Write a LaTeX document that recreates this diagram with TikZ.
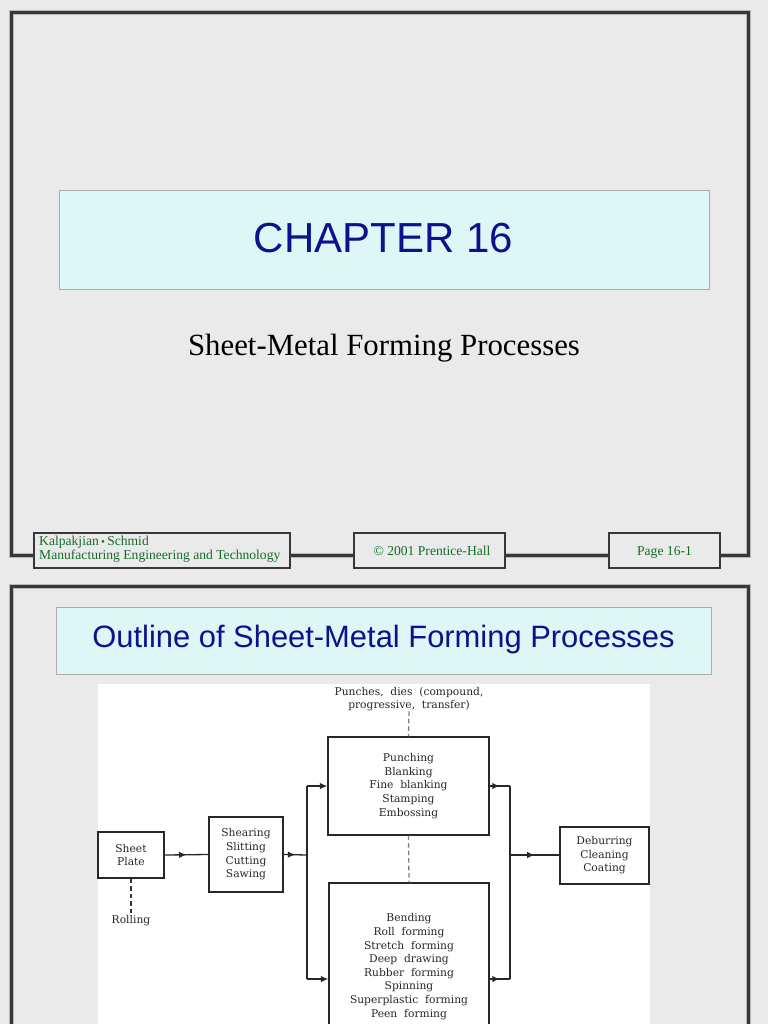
\documentclass[tikz,border=0pt]{standalone}
\usepackage{fontspec}
\setmainfont{Liberation Serif}
\newfontfamily\arialf{Liberation Sans}
\newfontfamily\diagf{DejaVu Serif}
\usetikzlibrary{arrows.meta,decorations.markings}
\definecolor{bgcol}{RGB}{234,234,234}
\definecolor{cyanbox}{RGB}{221,246,246}
\definecolor{titleblue}{RGB}{12,18,140}
\definecolor{footgreen}{RGB}{20,110,40}
\definecolor{framedark}{RGB}{56,56,56}
\definecolor{diagline}{RGB}{40,40,40}
\tikzset{
  slideframe/.style={draw=framedark,line width=2.6pt},
  frameshade/.style={draw=gray!55,line width=4.6pt},
  titlebox/.style={fill=cyanbox,draw=gray!65,line width=1pt},
  footbox/.style={fill=bgcol,draw=framedark,line width=1.4pt},
  foottext/.style={text=footgreen,font=\fontsize{13.6}{14.5}\selectfont,inner sep=0pt},
  procbox/.style={draw=diagline,line width=1.3pt,fill=white,align=center,
    font=\diagf\fontsize{10.7}{13.6}\selectfont,text=black!85,inner sep=0pt},
  dtext/.style={align=center,font=\diagf\fontsize{10.7}{13.6}\selectfont,text=black!85,inner sep=0pt},
  conn/.style={draw=diagline,line width=1.3pt},
  midarrow/.style={conn,decoration={markings,mark=at position 0.5 with {\arrow{Latex[length=7.5pt,width=6.5pt]}}},postaction={decorate}},
  endarrow/.style={conn,-{Latex[length=7.5pt,width=6.5pt]}},
  dashline/.style={line width=1.3pt,dash pattern=on 4.5pt off 3pt},
}
\begin{document}
\begin{tikzpicture}[x=1pt,y=1pt]
\useasboundingbox (0,0) rectangle (768,-1024);
\fill[bgcol] (0,0) rectangle (768,-1024);
\begin{scope}
\clip (0,0) rectangle (768,-1024);
% ---------- slide 1 ----------
\draw[frameshade] (11.5,-12.5) rectangle (748.5,-555.5);
\draw[slideframe] (11.5,-12.5) rectangle (748.5,-555.5);
\draw[titlebox] (59,-191) rectangle (709,-289);
\node[text=titleblue,font=\arialf\fontsize{42}{48}\selectfont,anchor=base,inner sep=0pt] (chap) at (383.5,-252) {CHAPTER 16};
\node[font=\fontsize{30.8}{34}\selectfont,anchor=base,inner sep=0pt] (sub) at (384,-355) {Sheet-Metal Forming Processes};
\draw[footbox] (34,-533) rectangle (290,-568);
\draw[footbox] (354,-533) rectangle (505,-568);
\draw[footbox] (609,-533) rectangle (720,-568);
\node[foottext,anchor=base west] (auth) at (39,-545) {Kalpakjian\,{\fontsize{11}{12}\selectfont\textbullet}\,Schmid};
\node[foottext,anchor=base west] (book) at (39,-559) {Manufacturing Engineering and Technology};
\node[foottext,anchor=base] (copy) at (432,-555) {© 2001 Prentice-Hall};
\node[foottext,anchor=base] (page) at (664.5,-555) {Page 16-1};
% ---------- slide 2 ----------
\draw[frameshade] (11.5,-586.5) rectangle (748.5,-1100);
\draw[slideframe] (11.5,-586.5) rectangle (748.5,-1100);
\draw[titlebox] (56,-607) rectangle (711,-674);
\node[text=titleblue,font=\arialf\fontsize{30.9}{34}\selectfont,anchor=base,inner sep=0pt] (outl) at (383.5,-647) {Outline of Sheet-Metal Forming Processes};
\fill[white] (98,-684) rectangle (650,-1030);
% diagram
\node[procbox,minimum width=66pt,minimum height=46pt] (sheet) at (131,-855) {Sheet\\Plate};
\node[procbox,minimum width=74pt,minimum height=75pt] (shear) at (246,-854.5) {Shearing\\Slitting\\Cutting\\Sawing};
\node[procbox,minimum width=161pt,minimum height=98pt] (punch) at (408.5,-786) {Punching\\Blanking\\Fine\ \ blanking\\Stamping\\Embossing};
\node[procbox,minimum width=160pt,minimum height=194pt] (bend) at (409,-980) {};
\node[dtext,anchor=north] (bendtxt) at (409,-913.5) {Bending\\Roll\ \ forming\\Stretch\ \ forming\\Deep\ \ drawing\\Rubber\ \ forming\\Spinning\\Superplastic\ \ forming\\Peen\ \ forming};
\node[procbox,minimum width=89pt,minimum height=57pt] (debur) at (604.5,-855.5) {Deburring\\Cleaning\\Coating};
\node[dtext] (dies) at (409,-699) {Punches,\ \ dies\ \ (compound,\\progressive,\ \ transfer)};
\node[dtext] (roll) at (131,-921) {Rolling};
% bus coordinates
\coordinate (lbt) at (307,-786);
\coordinate (lbm) at (307,-855);
\coordinate (lbb) at (307,-979);
\coordinate (rbt) at (510,-786);
\coordinate (rbm) at (510,-855);
\coordinate (rbb) at (510,-979);
% connectors
\draw[midarrow] (sheet.east) -- (shear.west);
\draw[midarrow] (shear.east) -- (lbm);
\draw[conn] (lbt) -- (lbb);
\draw[endarrow] (lbt) -- (punch.west|-lbt);
\draw[endarrow] (lbb) -- (bend.west|-lbb);
\draw[midarrow] (punch.east|-rbt) -- (rbt);
\draw[midarrow] (bend.east|-rbb) -- (rbb);
\draw[conn] (rbt) -- (rbb);
\draw[midarrow] (rbm) -- (debur.west|-rbm);
\draw[dashline,draw=black!80] (sheet.south) -- (roll.north);
\draw[dashline,draw=gray] (dies.south) -- (punch.north);
\draw[dashline,draw=gray] (punch.south) -- (bend.north);
\end{scope}
\end{tikzpicture}
\end{document}
